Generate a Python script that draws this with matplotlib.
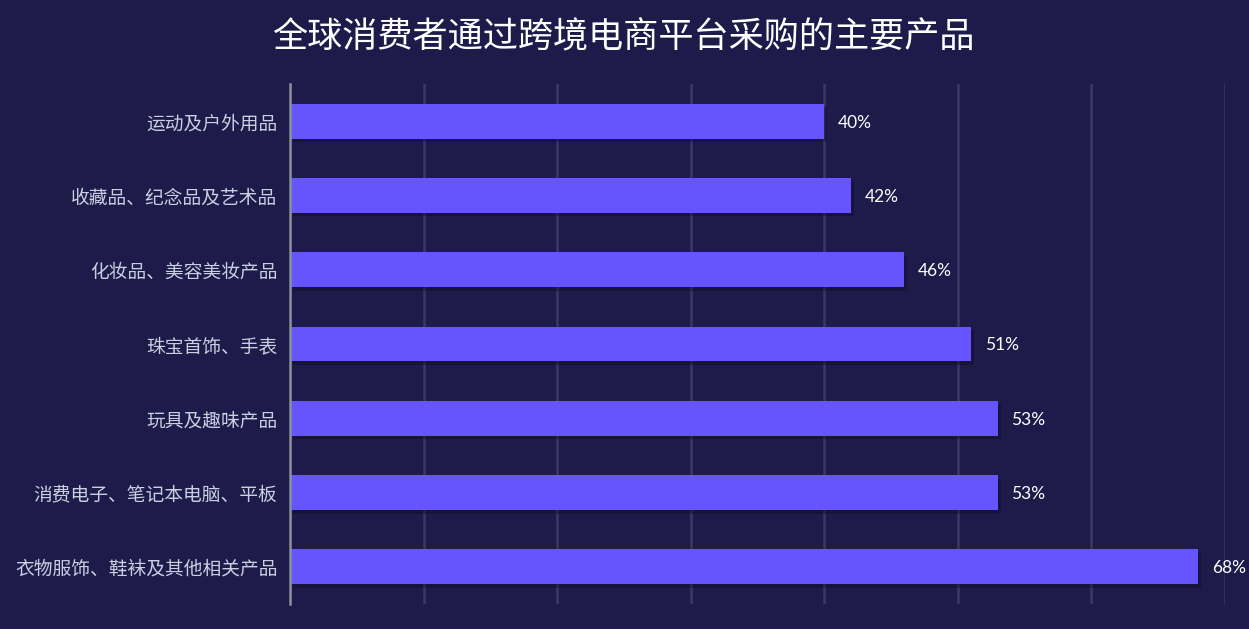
import matplotlib
matplotlib.use("Agg")
import matplotlib.pyplot as plt
import matplotlib.patheffects as pe

categories = ["运动及户外用品", "收藏品、纪念品及艺术品", "化妆品、美容美妆产品", "珠宝首饰、手表",
              "玩具及趣味产品", "消费电子、笔记本电脑、平板", "衣物服饰、鞋袜及其他相关产品"]
values = [40, 42, 46, 51, 53, 53, 68]
title = "全球消费者通过跨境电商平台采购的主要产品"

BG = "#1e1b4a"
BAR = "#6655ff"

plt.rcParams['font.family'] = ['Noto Sans CJK SC', 'DejaVu Sans']

fig = plt.figure(figsize=(12.49, 6.29), dpi=100, facecolor=BG)
ax = fig.add_axes([290/1249, 1-604/629, 935/1249, 520/629], facecolor=BG)

ypos = list(range(len(categories)))
bars = ax.barh(ypos, values, height=0.47, color=BAR, zorder=3)
for b in bars:
    b.set_path_effects([pe.SimplePatchShadow(offset=(2, -2.5), shadow_rgbFace="#0c0a25", alpha=0.4), pe.Normal()])

for y, v in zip(ypos, values):
    ax.text(v + 1.0, y, f"{v}%", va="center_baseline", ha="left", color="white",
            fontsize=12.5, family=['Lato', 'DejaVu Sans'], zorder=4)

ax.set_xlim(0, 70)
ax.set_ylim(len(categories) - 0.5, -0.5)
ax.set_xticks(range(0, 71, 10))
ax.set_xticklabels([])
ax.set_yticks(ypos)
ax.set_yticklabels(categories, fontsize=13.5, color="#c9d0e2")
ax.tick_params(axis='both', length=0)
ax.tick_params(axis='y', pad=9)
ax.grid(axis='x', color="#3a3867", linewidth=1.8, zorder=0)
for s in ['top', 'right', 'bottom']:
    ax.spines[s].set_visible(False)
ax.spines['left'].set_color("#8a909c")
ax.spines['left'].set_linewidth(1.8)
ax.spines['left'].set_zorder(5)

fig.text(623/1249, 1-37/629, title, ha="center", va="center", color="white", fontsize=25.3)

fig.savefig("out.png", dpi=100, facecolor=BG)
